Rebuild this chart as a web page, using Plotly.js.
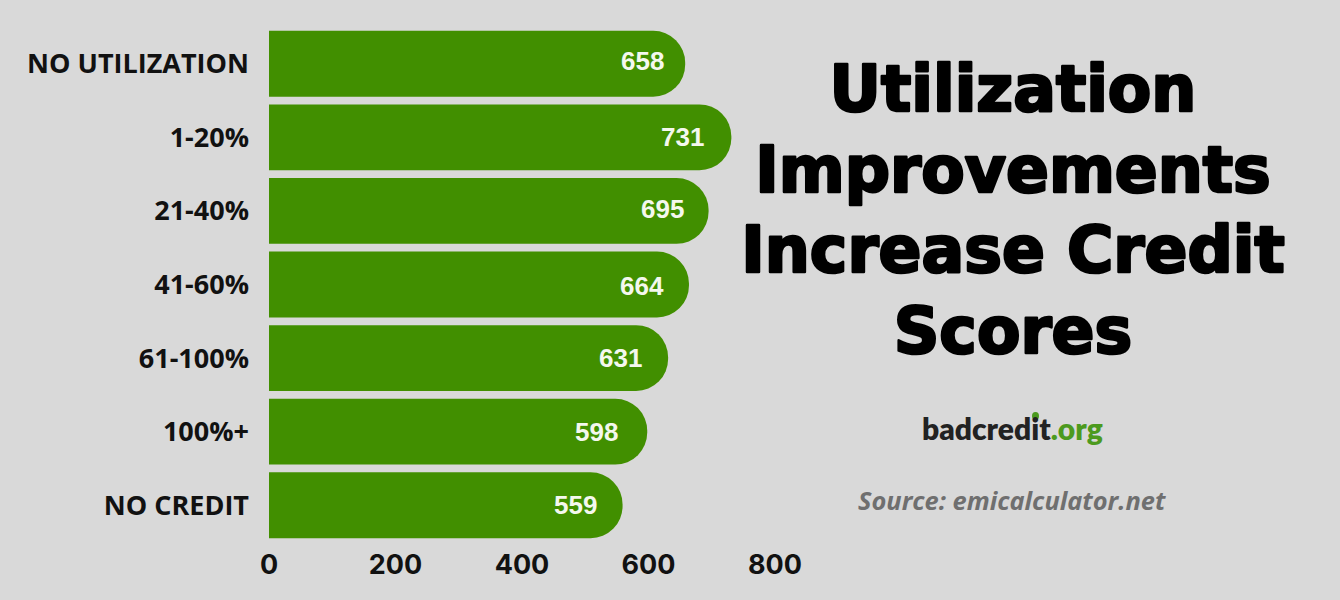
<!DOCTYPE html>
<html><head><meta charset="utf-8">
<script src="https://cdn.plot.ly/plotly-3.0.1.min.js"></script>
<style>html,body{margin:0;padding:0;background:#d9d9d9}</style></head>
<body><div id="chart" style="width:1340px;height:600px"></div>
<script>
const categories = ["NO UTILIZATION","1-20%","21-40%","41-60%","61-100%","100%+","NO CREDIT"];
const scores = [658,731,695,664,631,598,559];
const xTicks = [0,200,400,600,800];
const titleLines = ["Utilization","Improvements","Increase Credit","Scores"];
const sourceText = "Source: emicalculator.net";
const labelInset = [19,25,23,23,24,27,24];
const labelLift = [3,0,2,-1,0,0,0];

const W = 1340, H = 600;
const L = 269, R = 775, T = 27.4, B = 541.9;
const px = x => (x-L)/(R-L), py = y => (B-y)/(B-T);
const labelFont = {family:"Liberation Sans", size:26, color:"#f4f8ee", weight:700};
const annotations = categories.map((c,i)=>({
  x:scores[i], y:c, xref:"x", yref:"y", text:String(scores[i]), showarrow:false,
  xanchor:"right", yanchor:"middle", xshift:-labelInset[i], yshift:labelLift[i], font:labelFont
}));
annotations.push({
  xref:"paper", yref:"paper", x:px(1012), y:py(428), xanchor:"center", yanchor:"middle",
  showarrow:false, text:'badcredit<span style="color:#4c9a1e">.org</span>',
  font:{family:"Lato", size:30, color:"#222222", weight:800}
});
annotations.push({
  xref:"paper", yref:"paper", x:px(1012), y:py(500), xanchor:"center", yanchor:"middle",
  showarrow:false, text:"<b><i>"+sourceText+"</i></b>",
  font:{family:"Open Sans", size:25.4, color:"#6f6f6f"}
});
const titleStyle = 'font-size:63.3px;stroke:#000;stroke-width:2.6px;stroke-linejoin:round';

Plotly.newPlot("chart",[{
  type:"bar", orientation:"h", x:scores, y:categories,
  marker:{color:"#418f00", line:{width:0}}, hoverinfo:"skip"
}],{
  width:W, height:H, showlegend:false,
  paper_bgcolor:"#d9d9d9", plot_bgcolor:"#d9d9d9",
  margin:{l:L,r:W-R,t:T,b:H-B,pad:0},
  bargap:0.105, barcornerradius:33,
  title:{text:titleLines.map(t=>`<span style="${titleStyle}">${t}</span>`).join("<br>"),
         x:1013/W, xanchor:"center", xref:"container",
         y:1-111/H, yanchor:"middle", yref:"container",
         font:{family:"DejaVu Sans", size:62, color:"#000000", weight:700}},
  xaxis:{range:[0,800], tickvals:xTicks, showgrid:false, zeroline:false, showline:false, ticks:"",
         ticklabelstandoff:4, tickfont:{family:"Inter", size:27, color:"#111111", weight:700}, fixedrange:true},
  yaxis:{autorange:"reversed", showgrid:false, zeroline:false, showline:false, ticks:"",
         ticklabelstandoff:19, tickfont:{family:"Open Sans", size:27, color:"#111111", weight:700}, fixedrange:true},
  shapes:[{type:"circle", xref:"paper", yref:"paper", x0:px(1032), x1:px(1039), y0:py(420), y1:py(412),
           fillcolor:"#4c9a1e", line:{width:0}}],
  annotations
},{staticPlot:true,displayModeBar:false});
</script></body></html>
